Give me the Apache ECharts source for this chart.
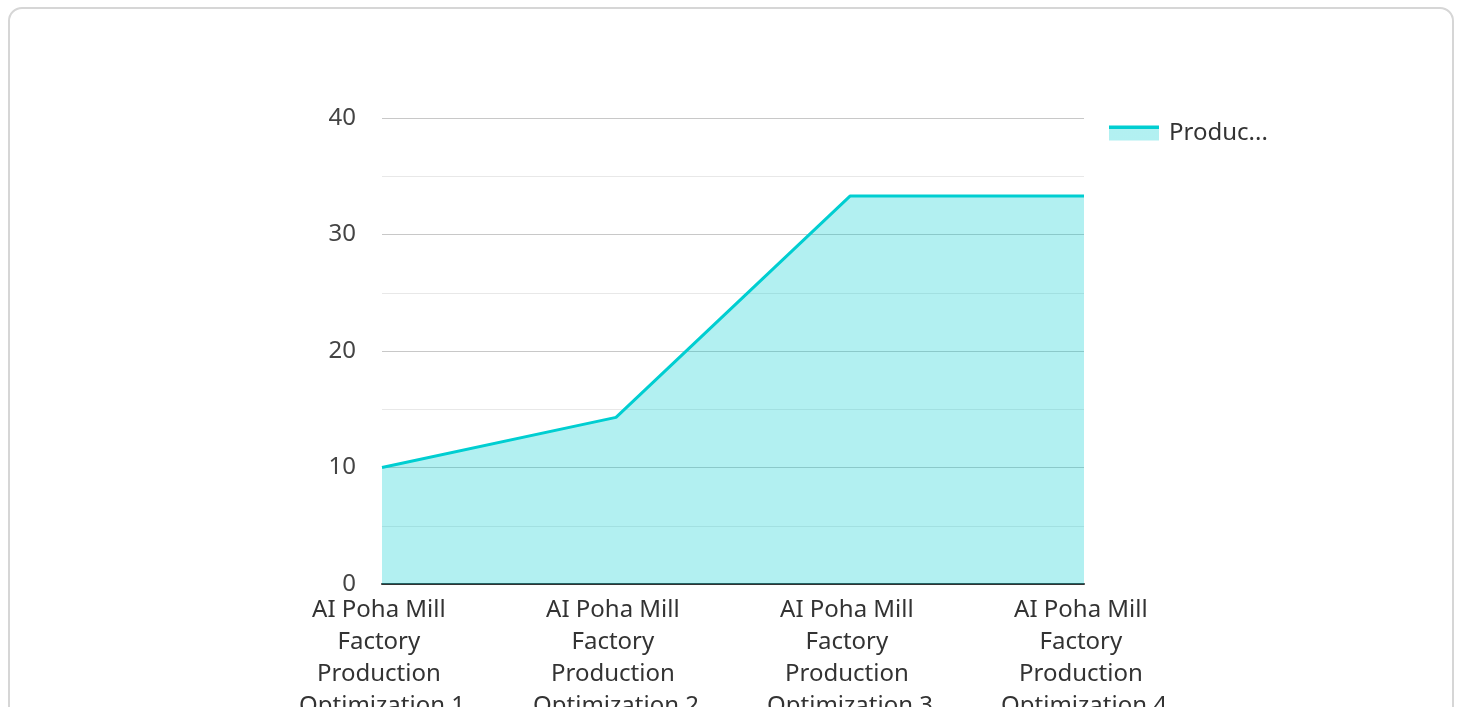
<!DOCTYPE html>
<html>
<head>
<meta charset="utf-8">
<script src="https://cdn.jsdelivr.net/npm/echarts@6/dist/echarts.min.js"></script>
<style>
  html, body { margin: 0; padding: 0; background: #fff; overflow: hidden; }
  #card { position: absolute; left: 8px; top: 7px; width: 1442px; height: 760px;
          border: 2px solid #d6d6d6; border-radius: 14px; background: #fff; }
  #chart { position: absolute; left: 0; top: 0; width: 1460px; height: 707px; }
</style>
</head>
<body>
<div id="card"></div>
<div id="chart"></div>
<script>
const categories = [
  'AI Poha Mill Factory Production Optimization 1',
  'AI Poha Mill Factory Production Optimization 2',
  'AI Poha Mill Factory Production Optimization 3',
  'AI Poha Mill Factory Production Optimization 4'
];
const seriesName = 'Production Efficiency';
const values = [10, 14.3, 33.3, 33.3];
const yTicks = [0, 10, 20, 30, 40];

const chart = echarts.init(document.getElementById('chart'), null, { renderer: 'canvas' });
const font = "'Noto Sans', 'Open Sans', sans-serif";
const lineColor = '#00CED1';
const fillColor = 'rgba(0,206,209,0.3)';
chart.setOption({
  animation: false,
  textStyle: { fontFamily: font },
  grid: { left: 382, right: 376, top: 118, bottom: 123, containLabel: false, outerBoundsMode: 'none' },
  legend: {
    show: true,
    left: 1109, top: 121,
    padding: 0,
    itemWidth: 50, itemHeight: 15, itemGap: 10,
    icon: 'rect',
    itemStyle: {
      color: {
        type: 'linear', x: 0, y: 0, x2: 0, y2: 1,
        colorStops: [
          { offset: 0, color: lineColor },
          { offset: 0.22, color: lineColor },
          { offset: 0.22, color: fillColor },
          { offset: 1, color: fillColor }
        ]
      },
      borderWidth: 0
    },
    textStyle: { fontSize: 24, color: '#333', fontFamily: font, width: 100, overflow: 'truncate', padding: [0, 0, 10, 5] },
    data: [{ name: seriesName }]
  },
  xAxis: {
    type: 'category',
    data: categories,
    boundaryGap: false,
    axisLine: { show: true, lineStyle: { color: '#333', width: 2 } },
    axisTick: { show: false },
    splitLine: { show: false },
    axisLabel: {
      fontSize: 24, color: '#333', fontFamily: font, lineHeight: 32,
      width: 185, overflow: 'break', margin: 10, interval: 0
    }
  },
  yAxis: {
    type: 'value',
    min: yTicks[0], max: yTicks[yTicks.length - 1], interval: 10,
    axisLine: { show: false },
    axisTick: { show: false },
    axisLabel: { fontSize: 24, color: '#444', fontFamily: font, margin: 26 },
    splitLine: { show: true, lineStyle: { color: '#c8c8c8', width: 1 } },
    minorTick: { show: false, splitNumber: 2 },
    minorSplitLine: { show: true, lineStyle: { color: '#e8e8e8', width: 1 } }
  },
  series: [{
    name: seriesName,
    type: 'line',
    data: values,
    showSymbol: false,
    symbol: 'none',
    lineStyle: { color: lineColor, width: 3 },
    itemStyle: { color: lineColor },
    areaStyle: { color: lineColor, opacity: 0.3 },
    z: 2
  }]
});
</script>
</body>
</html>
